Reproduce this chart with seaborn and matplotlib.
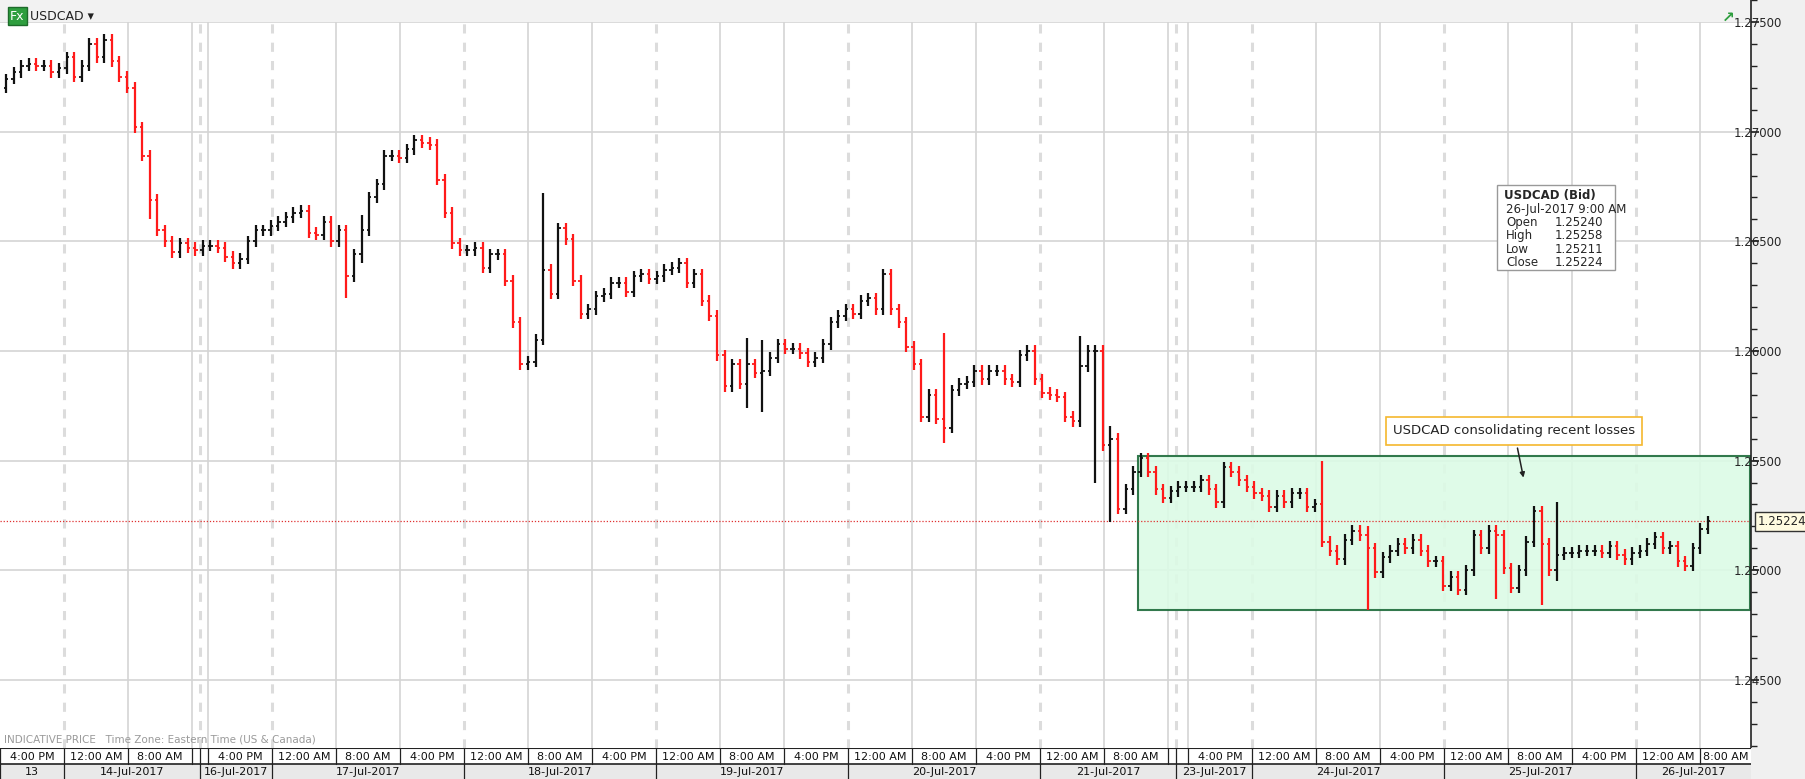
import numpy as np
import matplotlib
matplotlib.use("Agg")
import matplotlib.pyplot as plt
import seaborn as sns
from matplotlib.patches import Rectangle

sns.set_theme(style="white")
plt.rcParams['font.family'] = ['DejaVu Sans']

# hourly closes
closes = [
 1.2724,1.2727,1.2730,1.2731,1.2730,1.2730,1.2727,1.2729,1.2734,1.2725,1.2730,1.2740,1.2734,1.2742,1.2732,1.2725,
 1.2720,1.2702,1.2689,1.2669,1.2655,1.2650,1.2645,1.2649,1.2647,1.2646,1.2648,1.2648,1.2647,1.2643,1.2640,1.2642,
 1.2650,1.2655,1.2655,1.2657,1.2659,1.2661,1.2663,1.2664,1.2654,1.2653,1.2659,1.2650,1.2655,1.2634,1.2644,1.2655,
 1.2670,1.2676,1.2689,1.2689,1.2688,1.2692,1.2696,1.2695,1.2694,1.2678,1.2663,1.2649,1.2646,1.2646,1.2647,1.2638,
 1.2644,1.2644,
 1.2632,1.2613,1.2594,1.2595,1.2605,1.2637,1.2626,1.2656,1.2651,1.2632,1.2617,1.2619,1.2625,1.2626,1.2631,1.2631,
 1.2627,1.2634,1.2635,1.2633,1.2634,1.2637,1.2638,1.2640,1.2631,1.2635,1.2623,1.2616,1.2598,1.2584,1.2594,1.2585,
 1.2594,1.2590,1.2591,1.2597,1.2603,1.2601,1.2601,1.2599,1.2595,1.2597,1.2603,1.2613,1.2616,1.2619,1.2617,1.2623,
 1.2624,1.2619,1.2635,1.2619,1.2613,1.2602,1.2594,1.2570,1.2580,1.2569,1.2565,1.2582,1.2585,1.2586,1.2591,
 1.2587,1.2591,1.2591,1.2587,1.2586,1.2598,1.2600,1.2587,1.2581,1.2580,1.2579,1.2570,1.2568,1.2593,1.2600,1.2600,
 1.2557,1.2560,1.2528,1.2537,1.2545,1.2551,1.2545,1.2537,1.2533,1.2536,1.2538,1.2538,1.2538,1.2541,1.2537,1.2531,
 1.2547,1.2545,1.2541,1.2538,1.2535,1.2534,1.2529,1.2534,1.2531,1.2535,1.2535,1.2529,
 1.2530,1.2513,1.2509,1.2505,1.2514,1.2518,1.2516,1.2510,1.2499,1.2506,1.2509,1.2512,1.2510,1.2514,1.2509,1.2504,
 1.2504,1.2493,1.2497,1.2491,1.2500,1.2516,1.2510,1.2518,1.2516,1.2501,1.2492,1.2500,1.2513,1.2527,1.2512,1.2500,
 1.2507,1.2508,1.2508,1.2509,1.2509,1.2509,1.2508,1.2511,1.2507,1.2505,1.2508,1.2509,1.2512,1.2515,1.2510,1.2511,
 1.2504,1.2502,1.2510,1.2519,1.25224,
]
first_open = 1.2720
# notable wick extremes (bar index: (high, low))
spikes = {19: (1.2676, 1.2660), 45: (1.2648, 1.2624), 47: (1.2662, 1.2640), 71: (1.2672, 1.2630),
          98: (1.2606, 1.2574), 100: (1.2605, 1.2572), 124: (1.2608, 1.2558), 142: (1.2607, 1.2590),
          144: (1.2600, 1.2540), 146: (1.2566, 1.2522), 174: (1.2550, 1.2525), 180: (1.2520, 1.2482),
          203: (1.2516, 1.2484), 205: (1.2531, 1.2495), 197: (1.2504, 1.2487)}

top_labels = ["4:00 PM","12:00 AM","8:00 AM","","","4:00 PM","12:00 AM","8:00 AM","4:00 PM","12:00 AM",
              "8:00 AM","4:00 PM","12:00 AM","8:00 AM","4:00 PM","12:00 AM","8:00 AM","4:00 PM","12:00 AM",
              "8:00 AM","","","4:00 PM","12:00 AM","8:00 AM","4:00 PM","12:00 AM","8:00 AM","4:00 PM",
              "12:00 AM","8:00 AM"]
top_edges = [0,16,32,48,50,52,68,84,100,116,132,148,164,180,196,212,228,244,260,276,292,294,297,313,329,
             345,361,377,393,409,425,437.75]
date_labels = ["13","14-Jul-2017","16-Jul-2017","17-Jul-2017","18-Jul-2017","19-Jul-2017","20-Jul-2017",
               "21-Jul-2017","23-Jul-2017","24-Jul-2017","25-Jul-2017","26-Jul-2017"]
date_edges = [0,16,50,68,116,164,212,260,294,313,361,409,437.75]
dashed_lines = [16,50,68,116,164,212,260,294,313,361,409]
price_ticks = [1.245,1.250,1.255,1.260,1.265,1.270,1.275]

W, H = 1806, 779
fig = plt.figure(figsize=(W/100, H/100), dpi=100)
PR = 1751
ax = fig.add_axes([0, 31/H, PR/W, 748/H])
XMAX = 437.75
ax.set_xlim(0, XMAX)
y_top = 1.275 + 22*0.0000456
y_bot = 1.275 - 726*0.0000456
ax.set_ylim(y_bot, y_top)
for s in ax.spines.values():
    s.set_visible(False)
ax.set_xticks([]); ax.set_yticks([])

# grid
for p in price_ticks:
    ax.axhline(p, color="#d4d4d4", lw=1.2, zorder=0)
for e in top_edges[1:-1]:
    if e in dashed_lines:
        ax.axvline(e, color="#dcdcdc", lw=2.2, ls=(0, (3, 3)), zorder=0)
    else:
        ax.axvline(e, color="#d4d4d4", lw=1.2, zorder=0)

# consolidation box
ax.add_patch(Rectangle((284.5, 1.2482), XMAX - 284.5 - 0.3, 1.2552 - 1.2482, facecolor="#dcfbe6",
                       edgecolor="#1d6b3a", lw=1.5, zorder=1, alpha=0.9))

# OHLC bars
n = len(closes)
xs = np.linspace(1.5, 427, n)
opens = [first_open] + closes[:-1]
for i in range(n):
    o, c = opens[i], closes[i]
    hi, lo = max(o, c) + 0.00025, min(o, c) - 0.00025
    if i in spikes:
        hi, lo = max(hi, spikes[i][0]), min(lo, spikes[i][1])
    col = "#ff1a1a" if c < o else "#111111"
    x = xs[i]
    ax.vlines(x, lo, hi, color=col, lw=1.6, zorder=3)
    ax.hlines(o, x - 0.6, x, color=col, lw=1.3, zorder=3)
    ax.hlines(c, x, x + 0.6, color=col, lw=1.3, zorder=3)

# last price dotted line
ax.axhline(1.25224, color="#e03030", lw=0.9, ls=(0, (1, 1.5)), zorder=2)

# annotation
ax.annotate("USDCAD consolidating recent losses", xy=(381, 1.2541), xytext=(378.5, 1.25635),
            fontsize=9.5, ha="center", va="center", color="#222222",
            bbox=dict(boxstyle="square,pad=0.55", fc="white", ec="#f5b82e", lw=1.2),
            arrowprops=dict(arrowstyle="-|>,head_length=0.3,head_width=0.15", color="#222222", lw=1.1),
            zorder=6)

# info box
info_x = 1497/PR*XMAX
ax.add_patch(Rectangle((info_x, 1.275 - (270-22)*0.0000456), (1615-1497)/PR*XMAX, (270-185)*0.0000456,
                       fc="white", ec="#999999", lw=1, zorder=6))
ax.text(info_x + 1.8, 1.275 - (189-22)*0.0000456, "USDCAD (Bid)", fontsize=8.5, fontweight="bold",
        va="top", ha="left", zorder=8)
rows = [("26-Jul-2017 9:00 AM", ""), ("Open", "1.25240"), ("High", "1.25258"), ("Low", "1.25211"), ("Close", "1.25224")]
for k, (a, b) in enumerate(rows):
    yy = 1.275 - (203 + 13.2*k - 22)*0.0000456
    ax.text(info_x + 2.3, yy, a, fontsize=8.5, va="top", ha="left", zorder=8)
    if b:
        ax.text(info_x + 26.5, yy, b, fontsize=8.5, va="top", ha="right", zorder=8)

# header
ax.add_patch(Rectangle((0, 1.275), XMAX, (y_top - 1.275) + 0.00001, fc="#f2f2f2", ec="none", zorder=1))
fig.text(10/W, 1 - 16/H, "Fx", fontsize=9, color="white", va="center", ha="left",
         bbox=dict(boxstyle="square,pad=0.2", fc="#2e9e3e", ec="#1d6b2a"))
fig.text(30/W, 1 - 16/H, "USDCAD ▾", fontsize=9, color="#222222", va="center", ha="left")
fig.text(1728/W, 1 - 17/H, "↗", fontsize=11, color="#2e9e3e", va="center", ha="center", fontweight="bold")
ax.text(1, y_bot + 0.00018, "INDICATIVE PRICE   Time Zone: Eastern Time (US & Canada)", fontsize=7.5,
        color="#9a9a9a", va="bottom", ha="left", zorder=5)

# right price axis
rax = fig.add_axes([PR/W, 31/H, (W-PR)/W, 748/H])
rax.set_xlim(0, 1); rax.set_ylim(y_bot, y_top)
rax.set_facecolor("#f0f0f0")
for s in ["top", "right", "bottom"]:
    rax.spines[s].set_visible(False)
rax.spines["left"].set_color("#222222"); rax.spines["left"].set_linewidth(1.2)
rax.set_xticks([])
rax.set_yticks(price_ticks)
rax.set_yticklabels([f"{p:.5f}" for p in price_ticks])
rax.yaxis.tick_right()
rax.set_yticks(np.arange(1.242, 1.276, 0.001), minor=True)
rax.tick_params(axis="y", which="major", direction="in", length=6, pad=-52, labelsize=8.5, color="#222222")
rax.tick_params(axis="y", which="minor", direction="in", length=4, color="#222222")
for lab in rax.get_yticklabels():
    lab.set_horizontalalignment("left")
rax.yaxis.set_tick_params(which="both", right=False, left=True)
rax.text(0.12, 1.25224, "1.25224", fontsize=8.5, va="center", ha="left",
         bbox=dict(boxstyle="square,pad=0.25", fc="#fffbe0", ec="#333333", lw=1))

# time axis
tax = fig.add_axes([0, 0, PR/W, 31/H])
tax.set_xlim(0, XMAX); tax.set_ylim(0, 2)
tax.set_xticks([]); tax.set_yticks([])
for s in tax.spines.values():
    s.set_visible(False)
tax.add_patch(Rectangle((0, 0), XMAX, 1, fc="#e9e9e9", ec="none"))
tax.add_patch(Rectangle((0, 1), XMAX, 1, fc="white", ec="none"))
tax.axhline(1, color="#222222", lw=1.2)
tax.axhline(1.97, color="#222222", lw=1.5)
for k, lab in enumerate(top_labels):
    a, b = top_edges[k], top_edges[k + 1]
    tax.plot([a, a], [1, 2], color="#222222", lw=0.9)
    if lab:
        tax.text((a + b) / 2, 1.45, lab, fontsize=8, ha="center", va="center", color="#111111")
for k, lab in enumerate(date_labels):
    a, b = date_edges[k], date_edges[k + 1]
    tax.plot([a, a], [0, 1], color="#222222", lw=0.9)
    tax.text((a + b) / 2, 0.45, lab, fontsize=8, ha="center", va="center", color="#111111")
bax = fig.add_axes([PR/W, 0, (W-PR)/W, 31/H])
bax.set_facecolor("#f0f0f0"); bax.set_xticks([]); bax.set_yticks([])
for s in bax.spines.values():
    s.set_visible(False)

fig.savefig("out.png", dpi=100)
